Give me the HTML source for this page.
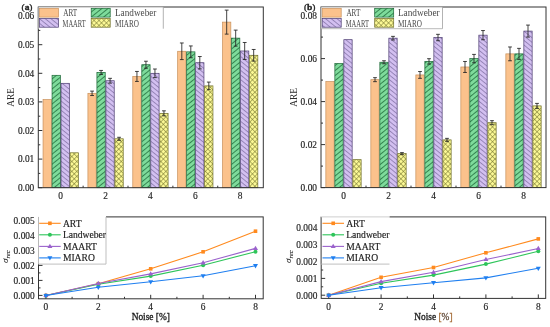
<!DOCTYPE html><html><head><meta charset="utf-8"><style>html,body{margin:0;padding:0;background:#fff;width:550px;height:327px;overflow:hidden}svg{display:block;filter:blur(0.3px)}.t{fill:#222;stroke:#222;stroke-width:0.15px}.t2{fill:#222;stroke:#222;stroke-width:0.12px}.t3{fill:#222;stroke:#222;stroke-width:0.32px}</style></head><body>
<svg width="550" height="327" viewBox="0 0 550 327" font-family='"Liberation Serif", serif' fill="#222">
<defs>
<pattern id="hLW" patternUnits="userSpaceOnUse" width="10" height="3.9" patternTransform="rotate(-39)"><line x1="0" y1="0.5" x2="10" y2="0.5" stroke="#1c6636" stroke-width="0.75"/></pattern>
<pattern id="hMA" patternUnits="userSpaceOnUse" width="10" height="3.6" patternTransform="rotate(39)"><line x1="0" y1="0.5" x2="10" y2="0.5" stroke="#54457a" stroke-width="0.5"/></pattern>
<pattern id="hMI" patternUnits="userSpaceOnUse" width="3.5" height="3.5" patternTransform="rotate(45)"><path d="M0 0.35H3.5M0.35 0V3.5" stroke="#6c6c28" stroke-width="0.55"/></pattern>
</defs>
<rect width="550" height="327" fill="#fff"/>
<rect x="43.05" y="99.61" width="8.3" height="88.09" fill="#fbc28c" stroke="#c8905a" stroke-width="0.7"/>
<rect x="52.05" y="75.30" width="8.3" height="112.40" fill="#7edb9b" stroke="#1c6636" stroke-width="0.7"/>
<rect x="52.05" y="75.30" width="8.3" height="112.40" fill="url(#hLW)"/>
<rect x="61.05" y="83.31" width="8.3" height="104.39" fill="#d3c0f1" stroke="#4a3a70" stroke-width="0.7"/>
<rect x="61.05" y="83.31" width="8.3" height="104.39" fill="url(#hMA)"/>
<rect x="70.05" y="152.81" width="8.3" height="34.89" fill="#fbf895" stroke="#6e6e2a" stroke-width="0.7"/>
<rect x="70.05" y="152.81" width="8.3" height="34.89" fill="url(#hMI)"/>
<rect x="87.92" y="93.32" width="8.3" height="94.38" fill="#fbc28c" stroke="#c8905a" stroke-width="0.7"/>
<path d="M90.17 91.12H93.97M92.07 91.12V95.52M90.17 95.52H93.97" stroke="#222" stroke-width="0.85" fill="none"/>
<rect x="96.92" y="72.44" width="8.3" height="115.26" fill="#7edb9b" stroke="#1c6636" stroke-width="0.7"/>
<rect x="96.92" y="72.44" width="8.3" height="115.26" fill="url(#hLW)"/>
<path d="M99.17 70.44H102.97M101.07 70.44V74.44M99.17 74.44H102.97" stroke="#222" stroke-width="0.85" fill="none"/>
<rect x="105.92" y="80.74" width="8.3" height="106.96" fill="#d3c0f1" stroke="#4a3a70" stroke-width="0.7"/>
<rect x="105.92" y="80.74" width="8.3" height="106.96" fill="url(#hMA)"/>
<path d="M108.17 78.34H111.97M110.07 78.34V83.14M108.17 83.14H111.97" stroke="#222" stroke-width="0.85" fill="none"/>
<rect x="114.92" y="138.79" width="8.3" height="48.91" fill="#fbf895" stroke="#6e6e2a" stroke-width="0.7"/>
<rect x="114.92" y="138.79" width="8.3" height="48.91" fill="url(#hMI)"/>
<path d="M117.17 137.29H120.97M119.07 137.29V140.29M117.17 140.29H120.97" stroke="#222" stroke-width="0.85" fill="none"/>
<rect x="132.79" y="76.45" width="8.3" height="111.25" fill="#fbc28c" stroke="#c8905a" stroke-width="0.7"/>
<path d="M135.04 71.45H138.84M136.94 71.45V81.45M135.04 81.45H138.84" stroke="#222" stroke-width="0.85" fill="none"/>
<rect x="141.79" y="64.72" width="8.3" height="122.98" fill="#7edb9b" stroke="#1c6636" stroke-width="0.7"/>
<rect x="141.79" y="64.72" width="8.3" height="122.98" fill="url(#hLW)"/>
<path d="M144.04 61.22H147.84M145.94 61.22V68.22M144.04 68.22H147.84" stroke="#222" stroke-width="0.85" fill="none"/>
<rect x="150.79" y="73.30" width="8.3" height="114.40" fill="#d3c0f1" stroke="#4a3a70" stroke-width="0.7"/>
<rect x="150.79" y="73.30" width="8.3" height="114.40" fill="url(#hMA)"/>
<path d="M153.04 69.00H156.84M154.94 69.00V77.60M153.04 77.60H156.84" stroke="#222" stroke-width="0.85" fill="none"/>
<rect x="159.79" y="113.34" width="8.3" height="74.36" fill="#fbf895" stroke="#6e6e2a" stroke-width="0.7"/>
<rect x="159.79" y="113.34" width="8.3" height="74.36" fill="url(#hMI)"/>
<path d="M162.04 110.84H165.84M163.94 110.84V115.84M162.04 115.84H165.84" stroke="#222" stroke-width="0.85" fill="none"/>
<rect x="177.66" y="51.28" width="8.3" height="136.42" fill="#fbc28c" stroke="#c8905a" stroke-width="0.7"/>
<path d="M179.91 42.98H183.71M181.81 42.98V59.58M179.91 59.58H183.71" stroke="#222" stroke-width="0.85" fill="none"/>
<rect x="186.66" y="51.85" width="8.3" height="135.85" fill="#7edb9b" stroke="#1c6636" stroke-width="0.7"/>
<rect x="186.66" y="51.85" width="8.3" height="135.85" fill="url(#hLW)"/>
<path d="M188.91 45.95H192.71M190.81 45.95V57.75M188.91 57.75H192.71" stroke="#222" stroke-width="0.85" fill="none"/>
<rect x="195.66" y="62.72" width="8.3" height="124.98" fill="#d3c0f1" stroke="#4a3a70" stroke-width="0.7"/>
<rect x="195.66" y="62.72" width="8.3" height="124.98" fill="url(#hMA)"/>
<path d="M197.91 56.52H201.71M199.81 56.52V68.92M197.91 68.92H201.71" stroke="#222" stroke-width="0.85" fill="none"/>
<rect x="204.66" y="85.88" width="8.3" height="101.82" fill="#fbf895" stroke="#6e6e2a" stroke-width="0.7"/>
<rect x="204.66" y="85.88" width="8.3" height="101.82" fill="url(#hMI)"/>
<path d="M206.91 82.08H210.71M208.81 82.08V89.68M206.91 89.68H210.71" stroke="#222" stroke-width="0.85" fill="none"/>
<rect x="222.53" y="22.11" width="8.3" height="165.59" fill="#fbc28c" stroke="#c8905a" stroke-width="0.7"/>
<path d="M224.78 10.11H228.58M226.68 10.11V34.11M224.78 34.11H228.58" stroke="#222" stroke-width="0.85" fill="none"/>
<rect x="231.53" y="38.12" width="8.3" height="149.58" fill="#7edb9b" stroke="#1c6636" stroke-width="0.7"/>
<rect x="231.53" y="38.12" width="8.3" height="149.58" fill="url(#hLW)"/>
<path d="M233.78 30.12H237.58M235.68 30.12V46.12M233.78 46.12H237.58" stroke="#222" stroke-width="0.85" fill="none"/>
<rect x="240.53" y="50.99" width="8.3" height="136.71" fill="#d3c0f1" stroke="#4a3a70" stroke-width="0.7"/>
<rect x="240.53" y="50.99" width="8.3" height="136.71" fill="url(#hMA)"/>
<path d="M242.78 42.49H246.58M244.68 42.49V59.49M242.78 59.49H246.58" stroke="#222" stroke-width="0.85" fill="none"/>
<rect x="249.53" y="55.28" width="8.3" height="132.42" fill="#fbf895" stroke="#6e6e2a" stroke-width="0.7"/>
<rect x="249.53" y="55.28" width="8.3" height="132.42" fill="url(#hMI)"/>
<path d="M251.78 49.48H255.58M253.68 49.48V61.08M251.78 61.08H255.58" stroke="#222" stroke-width="0.85" fill="none"/>
<rect x="38.3" y="7.0" width="225.0" height="180.7" fill="none" stroke="#333" stroke-width="1"/>
<line x1="38.3" y1="187.70" x2="42.3" y2="187.70" stroke="#333" stroke-width="1"/>
<text x="34.30" y="191.00" font-size="9.4" text-anchor="end" class="t">0.00</text>
<line x1="38.3" y1="173.40" x2="40.3" y2="173.40" stroke="#333" stroke-width="1"/>
<line x1="38.3" y1="159.10" x2="42.3" y2="159.10" stroke="#333" stroke-width="1"/>
<text x="34.30" y="162.40" font-size="9.4" text-anchor="end" class="t">0.01</text>
<line x1="38.3" y1="144.80" x2="40.3" y2="144.80" stroke="#333" stroke-width="1"/>
<line x1="38.3" y1="130.50" x2="42.3" y2="130.50" stroke="#333" stroke-width="1"/>
<text x="34.30" y="133.80" font-size="9.4" text-anchor="end" class="t">0.02</text>
<line x1="38.3" y1="116.20" x2="40.3" y2="116.20" stroke="#333" stroke-width="1"/>
<line x1="38.3" y1="101.90" x2="42.3" y2="101.90" stroke="#333" stroke-width="1"/>
<text x="34.30" y="105.20" font-size="9.4" text-anchor="end" class="t">0.03</text>
<line x1="38.3" y1="87.60" x2="40.3" y2="87.60" stroke="#333" stroke-width="1"/>
<line x1="38.3" y1="73.30" x2="42.3" y2="73.30" stroke="#333" stroke-width="1"/>
<text x="34.30" y="76.60" font-size="9.4" text-anchor="end" class="t">0.04</text>
<line x1="38.3" y1="59.00" x2="40.3" y2="59.00" stroke="#333" stroke-width="1"/>
<line x1="38.3" y1="44.70" x2="42.3" y2="44.70" stroke="#333" stroke-width="1"/>
<text x="34.30" y="48.00" font-size="9.4" text-anchor="end" class="t">0.05</text>
<line x1="38.3" y1="30.40" x2="40.3" y2="30.40" stroke="#333" stroke-width="1"/>
<line x1="38.3" y1="16.10" x2="42.3" y2="16.10" stroke="#333" stroke-width="1"/>
<text x="34.30" y="19.40" font-size="9.4" text-anchor="end" class="t">0.06</text>
<line x1="83.13499999999999" y1="187.7" x2="83.13499999999999" y2="185.7" stroke="#333" stroke-width="1"/>
<line x1="128.005" y1="187.7" x2="128.005" y2="185.7" stroke="#333" stroke-width="1"/>
<line x1="172.875" y1="187.7" x2="172.875" y2="185.7" stroke="#333" stroke-width="1"/>
<line x1="217.745" y1="187.7" x2="217.745" y2="185.7" stroke="#333" stroke-width="1"/>
<text x="60.70" y="198.90" font-size="9.4" text-anchor="middle" class="t">0</text>
<text x="105.57" y="198.90" font-size="9.4" text-anchor="middle" class="t">2</text>
<text x="150.44" y="198.90" font-size="9.4" text-anchor="middle" class="t">4</text>
<text x="195.31" y="198.90" font-size="9.4" text-anchor="middle" class="t">6</text>
<text x="240.18" y="198.90" font-size="9.4" text-anchor="middle" class="t">8</text>
<text transform="translate(14.40,97.4) rotate(-90)" text-anchor="middle" font-size="9.4" fill="#2a2a2a">ARE</text>
<text transform="translate(27.00,9.70) scale(1.08,1)" font-size="8.8" text-anchor="middle" class="t3">(<tspan font-weight="bold">a</tspan>)</text>
<rect x="38.3" y="7.0" width="125" height="21.7" fill="#fff"/>
<path d="M38.3 7.0H163.3V28.7" stroke="#a0a0a0" stroke-width="0.8" fill="none"/>
<path d="M38.3 7.0V28.7" stroke="#909090" stroke-width="0.9" fill="none"/>
<rect x="39.50" y="8.3" width="19" height="8.8" fill="#fbc28c" stroke="#c8905a" stroke-width="0.7"/>
<rect x="39.50" y="18.4" width="19" height="8.8" fill="#d3c0f1" stroke="#4a3a70" stroke-width="0.7"/>
<rect x="39.50" y="18.4" width="19" height="8.8" fill="url(#hMA)"/>
<rect x="91.20" y="8.3" width="19" height="8.8" fill="#7edb9b" stroke="#1c6636" stroke-width="0.7"/>
<rect x="91.20" y="8.3" width="19" height="8.8" fill="url(#hLW)"/>
<rect x="91.20" y="18.4" width="19" height="8.8" fill="#fbf895" stroke="#6e6e2a" stroke-width="0.7"/>
<rect x="91.20" y="18.4" width="19" height="8.8" fill="url(#hMI)"/>
<text x="63.2" y="16.0" font-size="9.6" fill="#4a4a4a" textLength="14" lengthAdjust="spacingAndGlyphs">ART</text>
<text x="62.6" y="26.6" font-size="9.6" fill="#4a4a4a" textLength="23.2" lengthAdjust="spacingAndGlyphs">MAART</text>
<text x="115" y="16.0" font-size="9.6" fill="#4a4a4a" textLength="41.4" lengthAdjust="spacingAndGlyphs">Landweber</text>
<text x="115" y="26.6" font-size="9.6" fill="#4a4a4a" textLength="24" lengthAdjust="spacingAndGlyphs">MIARO</text>
<rect x="325.85" y="81.61" width="8.3" height="105.99" fill="#fbc28c" stroke="#c8905a" stroke-width="0.7"/>
<rect x="334.85" y="63.54" width="8.3" height="124.06" fill="#7edb9b" stroke="#1c6636" stroke-width="0.7"/>
<rect x="334.85" y="63.54" width="8.3" height="124.06" fill="url(#hLW)"/>
<rect x="343.85" y="39.68" width="8.3" height="147.92" fill="#d3c0f1" stroke="#4a3a70" stroke-width="0.7"/>
<rect x="343.85" y="39.68" width="8.3" height="147.92" fill="url(#hMA)"/>
<rect x="352.85" y="159.65" width="8.3" height="27.95" fill="#fbf895" stroke="#6e6e2a" stroke-width="0.7"/>
<rect x="352.85" y="159.65" width="8.3" height="27.95" fill="url(#hMI)"/>
<rect x="370.85" y="79.67" width="8.3" height="107.93" fill="#fbc28c" stroke="#c8905a" stroke-width="0.7"/>
<path d="M373.10 77.67H376.90M375.00 77.67V81.67M373.10 81.67H376.90" stroke="#222" stroke-width="0.85" fill="none"/>
<rect x="379.85" y="62.25" width="8.3" height="125.34" fill="#7edb9b" stroke="#1c6636" stroke-width="0.7"/>
<rect x="379.85" y="62.25" width="8.3" height="125.34" fill="url(#hLW)"/>
<path d="M382.10 60.75H385.90M384.00 60.75V63.75M382.10 63.75H385.90" stroke="#222" stroke-width="0.85" fill="none"/>
<rect x="388.85" y="38.17" width="8.3" height="149.43" fill="#d3c0f1" stroke="#4a3a70" stroke-width="0.7"/>
<rect x="388.85" y="38.17" width="8.3" height="149.43" fill="url(#hMA)"/>
<path d="M391.10 36.37H394.90M393.00 36.37V39.97M391.10 39.97H394.90" stroke="#222" stroke-width="0.85" fill="none"/>
<rect x="397.85" y="153.63" width="8.3" height="33.97" fill="#fbf895" stroke="#6e6e2a" stroke-width="0.7"/>
<rect x="397.85" y="153.63" width="8.3" height="33.97" fill="url(#hMI)"/>
<path d="M400.10 152.63H403.90M402.00 152.63V154.63M400.10 154.63H403.90" stroke="#222" stroke-width="0.85" fill="none"/>
<rect x="415.85" y="74.94" width="8.3" height="112.66" fill="#fbc28c" stroke="#c8905a" stroke-width="0.7"/>
<path d="M418.10 71.54H421.90M420.00 71.54V78.34M418.10 78.34H421.90" stroke="#222" stroke-width="0.85" fill="none"/>
<rect x="424.85" y="61.39" width="8.3" height="126.20" fill="#7edb9b" stroke="#1c6636" stroke-width="0.7"/>
<rect x="424.85" y="61.39" width="8.3" height="126.20" fill="url(#hLW)"/>
<path d="M427.10 58.69H430.90M429.00 58.69V64.09M427.10 64.09H430.90" stroke="#222" stroke-width="0.85" fill="none"/>
<rect x="433.85" y="37.53" width="8.3" height="150.07" fill="#d3c0f1" stroke="#4a3a70" stroke-width="0.7"/>
<rect x="433.85" y="37.53" width="8.3" height="150.07" fill="url(#hMA)"/>
<path d="M436.10 34.33H439.90M438.00 34.33V40.73M436.10 40.73H439.90" stroke="#222" stroke-width="0.85" fill="none"/>
<rect x="442.85" y="139.87" width="8.3" height="47.73" fill="#fbf895" stroke="#6e6e2a" stroke-width="0.7"/>
<rect x="442.85" y="139.87" width="8.3" height="47.73" fill="url(#hMI)"/>
<path d="M445.10 138.37H448.90M447.00 138.37V141.37M445.10 141.37H448.90" stroke="#222" stroke-width="0.85" fill="none"/>
<rect x="460.85" y="66.98" width="8.3" height="120.61" fill="#fbc28c" stroke="#c8905a" stroke-width="0.7"/>
<path d="M463.10 61.48H466.90M465.00 61.48V72.48M463.10 72.48H466.90" stroke="#222" stroke-width="0.85" fill="none"/>
<rect x="469.85" y="58.60" width="8.3" height="129.00" fill="#7edb9b" stroke="#1c6636" stroke-width="0.7"/>
<rect x="469.85" y="58.60" width="8.3" height="129.00" fill="url(#hLW)"/>
<path d="M472.10 54.40H475.90M474.00 54.40V62.80M472.10 62.80H475.90" stroke="#222" stroke-width="0.85" fill="none"/>
<rect x="478.85" y="35.16" width="8.3" height="152.44" fill="#d3c0f1" stroke="#4a3a70" stroke-width="0.7"/>
<rect x="478.85" y="35.16" width="8.3" height="152.44" fill="url(#hMA)"/>
<path d="M481.10 30.56H484.90M483.00 30.56V39.76M481.10 39.76H484.90" stroke="#222" stroke-width="0.85" fill="none"/>
<rect x="487.85" y="122.67" width="8.3" height="64.93" fill="#fbf895" stroke="#6e6e2a" stroke-width="0.7"/>
<rect x="487.85" y="122.67" width="8.3" height="64.93" fill="url(#hMI)"/>
<path d="M490.10 120.67H493.90M492.00 120.67V124.67M490.10 124.67H493.90" stroke="#222" stroke-width="0.85" fill="none"/>
<rect x="505.85" y="53.87" width="8.3" height="133.73" fill="#fbc28c" stroke="#c8905a" stroke-width="0.7"/>
<path d="M508.10 46.97H511.90M510.00 46.97V60.77M508.10 60.77H511.90" stroke="#222" stroke-width="0.85" fill="none"/>
<rect x="514.85" y="53.87" width="8.3" height="133.73" fill="#7edb9b" stroke="#1c6636" stroke-width="0.7"/>
<rect x="514.85" y="53.87" width="8.3" height="133.73" fill="url(#hLW)"/>
<path d="M517.10 48.37H520.90M519.00 48.37V59.37M517.10 59.37H520.90" stroke="#222" stroke-width="0.85" fill="none"/>
<rect x="523.85" y="31.08" width="8.3" height="156.52" fill="#d3c0f1" stroke="#4a3a70" stroke-width="0.7"/>
<rect x="523.85" y="31.08" width="8.3" height="156.52" fill="url(#hMA)"/>
<path d="M526.10 25.08H529.90M528.00 25.08V37.08M526.10 37.08H529.90" stroke="#222" stroke-width="0.85" fill="none"/>
<rect x="532.85" y="105.90" width="8.3" height="81.70" fill="#fbf895" stroke="#6e6e2a" stroke-width="0.7"/>
<rect x="532.85" y="105.90" width="8.3" height="81.70" fill="url(#hMI)"/>
<path d="M535.10 103.40H538.90M537.00 103.40V108.40M535.10 108.40H538.90" stroke="#222" stroke-width="0.85" fill="none"/>
<rect x="321.0" y="7.0" width="225.0" height="180.6" fill="none" stroke="#333" stroke-width="1"/>
<line x1="321.0" y1="187.60" x2="325.0" y2="187.60" stroke="#333" stroke-width="1"/>
<text x="317.00" y="190.90" font-size="9.4" text-anchor="end" class="t">0.00</text>
<line x1="321.0" y1="166.10" x2="323.0" y2="166.10" stroke="#333" stroke-width="1"/>
<line x1="321.0" y1="144.60" x2="325.0" y2="144.60" stroke="#333" stroke-width="1"/>
<text x="317.00" y="147.90" font-size="9.4" text-anchor="end" class="t">0.02</text>
<line x1="321.0" y1="123.10" x2="323.0" y2="123.10" stroke="#333" stroke-width="1"/>
<line x1="321.0" y1="101.60" x2="325.0" y2="101.60" stroke="#333" stroke-width="1"/>
<text x="317.00" y="104.90" font-size="9.4" text-anchor="end" class="t">0.04</text>
<line x1="321.0" y1="80.10" x2="323.0" y2="80.10" stroke="#333" stroke-width="1"/>
<line x1="321.0" y1="58.60" x2="325.0" y2="58.60" stroke="#333" stroke-width="1"/>
<text x="317.00" y="61.90" font-size="9.4" text-anchor="end" class="t">0.06</text>
<line x1="321.0" y1="37.10" x2="323.0" y2="37.10" stroke="#333" stroke-width="1"/>
<line x1="321.0" y1="15.60" x2="325.0" y2="15.60" stroke="#333" stroke-width="1"/>
<text x="317.00" y="18.90" font-size="9.4" text-anchor="end" class="t">0.08</text>
<line x1="366.0" y1="187.6" x2="366.0" y2="185.6" stroke="#333" stroke-width="1"/>
<line x1="411.0" y1="187.6" x2="411.0" y2="185.6" stroke="#333" stroke-width="1"/>
<line x1="456.0" y1="187.6" x2="456.0" y2="185.6" stroke="#333" stroke-width="1"/>
<line x1="501.0" y1="187.6" x2="501.0" y2="185.6" stroke="#333" stroke-width="1"/>
<text x="343.50" y="198.80" font-size="9.4" text-anchor="middle" class="t">0</text>
<text x="388.50" y="198.80" font-size="9.4" text-anchor="middle" class="t">2</text>
<text x="433.50" y="198.80" font-size="9.4" text-anchor="middle" class="t">4</text>
<text x="478.50" y="198.80" font-size="9.4" text-anchor="middle" class="t">6</text>
<text x="523.50" y="198.80" font-size="9.4" text-anchor="middle" class="t">8</text>
<text transform="translate(297.10,97.4) rotate(-90)" text-anchor="middle" font-size="9.4" fill="#2a2a2a">ARE</text>
<text transform="translate(309.70,9.70) scale(1.08,1)" font-size="8.8" text-anchor="middle" class="t3">(<tspan font-weight="bold">b</tspan>)</text>
<rect x="321.0" y="7.0" width="121.5" height="21.7" fill="#fff"/>
<path d="M321.0 7.0H442.5V28.7" stroke="#a0a0a0" stroke-width="0.8" fill="none"/>
<path d="M321.0 7.0V28.7" stroke="#909090" stroke-width="0.9" fill="none"/>
<path d="M321.0 28.7H442.5" stroke="#a8a8a8" stroke-width="0.8" fill="none"/>
<rect x="322.20" y="8.3" width="19" height="8.8" fill="#fbc28c" stroke="#c8905a" stroke-width="0.7"/>
<rect x="322.20" y="18.4" width="19" height="8.8" fill="#d3c0f1" stroke="#4a3a70" stroke-width="0.7"/>
<rect x="322.20" y="18.4" width="19" height="8.8" fill="url(#hMA)"/>
<rect x="374.70" y="8.3" width="19" height="8.8" fill="#7edb9b" stroke="#1c6636" stroke-width="0.7"/>
<rect x="374.70" y="8.3" width="19" height="8.8" fill="url(#hLW)"/>
<rect x="374.70" y="18.4" width="19" height="8.8" fill="#fbf895" stroke="#6e6e2a" stroke-width="0.7"/>
<rect x="374.70" y="18.4" width="19" height="8.8" fill="url(#hMI)"/>
<text x="346.4" y="16.0" font-size="9.6" fill="#4a4a4a" textLength="14" lengthAdjust="spacingAndGlyphs">ART</text>
<text x="345.8" y="26.6" font-size="9.6" fill="#4a4a4a" textLength="23.2" lengthAdjust="spacingAndGlyphs">MAART</text>
<text x="397.9" y="16.0" font-size="9.6" fill="#4a4a4a" textLength="41.8" lengthAdjust="spacingAndGlyphs">Landweber</text>
<text x="397.9" y="26.6" font-size="9.6" fill="#4a4a4a" textLength="24" lengthAdjust="spacingAndGlyphs">MIARO</text>
<rect x="38.5" y="216.9" width="224.7" height="81.9" fill="none" stroke="#333" stroke-width="1"/>
<line x1="38.5" y1="295.40" x2="42.5" y2="295.40" stroke="#333" stroke-width="1"/>
<text x="34.70" y="298.80" font-size="9.4" text-anchor="end" class="t">0.000</text>
<line x1="38.5" y1="280.40" x2="42.5" y2="280.40" stroke="#333" stroke-width="1"/>
<text x="34.70" y="283.80" font-size="9.4" text-anchor="end" class="t">0.001</text>
<line x1="38.5" y1="265.40" x2="42.5" y2="265.40" stroke="#333" stroke-width="1"/>
<text x="34.70" y="268.80" font-size="9.4" text-anchor="end" class="t">0.002</text>
<line x1="38.5" y1="250.40" x2="42.5" y2="250.40" stroke="#333" stroke-width="1"/>
<text x="34.70" y="253.80" font-size="9.4" text-anchor="end" class="t">0.003</text>
<line x1="38.5" y1="235.40" x2="42.5" y2="235.40" stroke="#333" stroke-width="1"/>
<text x="34.70" y="238.80" font-size="9.4" text-anchor="end" class="t">0.004</text>
<line x1="38.5" y1="220.40" x2="42.5" y2="220.40" stroke="#333" stroke-width="1"/>
<text x="34.70" y="223.80" font-size="9.4" text-anchor="end" class="t">0.005</text>
<line x1="38.5" y1="287.90" x2="40.5" y2="287.90" stroke="#333" stroke-width="1"/>
<line x1="38.5" y1="272.90" x2="40.5" y2="272.90" stroke="#333" stroke-width="1"/>
<line x1="38.5" y1="257.90" x2="40.5" y2="257.90" stroke="#333" stroke-width="1"/>
<line x1="38.5" y1="242.90" x2="40.5" y2="242.90" stroke="#333" stroke-width="1"/>
<line x1="38.5" y1="227.90" x2="40.5" y2="227.90" stroke="#333" stroke-width="1"/>
<line x1="45.90" y1="298.8" x2="45.90" y2="294.8" stroke="#333" stroke-width="1"/>
<text x="45.90" y="310.10" font-size="9.4" text-anchor="middle" class="t">0</text>
<line x1="72.10" y1="298.8" x2="72.10" y2="296.8" stroke="#333" stroke-width="1"/>
<line x1="98.30" y1="298.8" x2="98.30" y2="294.8" stroke="#333" stroke-width="1"/>
<text x="98.30" y="310.10" font-size="9.4" text-anchor="middle" class="t">2</text>
<line x1="124.50" y1="298.8" x2="124.50" y2="296.8" stroke="#333" stroke-width="1"/>
<line x1="150.70" y1="298.8" x2="150.70" y2="294.8" stroke="#333" stroke-width="1"/>
<text x="150.70" y="310.10" font-size="9.4" text-anchor="middle" class="t">4</text>
<line x1="176.90" y1="298.8" x2="176.90" y2="296.8" stroke="#333" stroke-width="1"/>
<line x1="203.10" y1="298.8" x2="203.10" y2="294.8" stroke="#333" stroke-width="1"/>
<text x="203.10" y="310.10" font-size="9.4" text-anchor="middle" class="t">6</text>
<line x1="229.30" y1="298.8" x2="229.30" y2="296.8" stroke="#333" stroke-width="1"/>
<line x1="255.50" y1="298.8" x2="255.50" y2="294.8" stroke="#333" stroke-width="1"/>
<text x="255.50" y="310.10" font-size="9.4" text-anchor="middle" class="t">8</text>
<polyline points="45.90,295.50 98.30,283.70 150.70,268.80 203.10,251.80 255.50,231.20" fill="none" stroke="#ff8a1e" stroke-width="1.1"/>
<rect x="44.10" y="293.70" width="3.6" height="3.6" fill="#ff8a1e"/>
<rect x="96.50" y="281.90" width="3.6" height="3.6" fill="#ff8a1e"/>
<rect x="148.90" y="267.00" width="3.6" height="3.6" fill="#ff8a1e"/>
<rect x="201.30" y="250.00" width="3.6" height="3.6" fill="#ff8a1e"/>
<rect x="253.70" y="229.40" width="3.6" height="3.6" fill="#ff8a1e"/>
<polyline points="45.90,295.50 98.30,284.20 150.70,276.10 203.10,265.20 255.50,251.70" fill="none" stroke="#2ec55a" stroke-width="1.1"/>
<circle cx="45.90" cy="295.50" r="2" fill="#2ec55a"/>
<circle cx="98.30" cy="284.20" r="2" fill="#2ec55a"/>
<circle cx="150.70" cy="276.10" r="2" fill="#2ec55a"/>
<circle cx="203.10" cy="265.20" r="2" fill="#2ec55a"/>
<circle cx="255.50" cy="251.70" r="2" fill="#2ec55a"/>
<polyline points="45.90,295.50 98.30,283.50 150.70,273.90 203.10,262.80 255.50,248.40" fill="none" stroke="#9a62cc" stroke-width="1.1"/>
<path d="M45.90 292.80L48.40 297.10H43.40Z" fill="#9a62cc"/>
<path d="M98.30 280.80L100.80 285.10H95.80Z" fill="#9a62cc"/>
<path d="M150.70 271.20L153.20 275.50H148.20Z" fill="#9a62cc"/>
<path d="M203.10 260.10L205.60 264.40H200.60Z" fill="#9a62cc"/>
<path d="M255.50 245.70L258.00 250.00H253.00Z" fill="#9a62cc"/>
<polyline points="45.90,295.50 98.30,287.30 150.70,281.80 203.10,275.80 255.50,265.70" fill="none" stroke="#1f7ff0" stroke-width="1.1"/>
<path d="M45.90 298.20L48.40 293.90H43.40Z" fill="#1f7ff0"/>
<path d="M98.30 290.00L100.80 285.70H95.80Z" fill="#1f7ff0"/>
<path d="M150.70 284.50L153.20 280.20H148.20Z" fill="#1f7ff0"/>
<path d="M203.10 278.50L205.60 274.20H200.60Z" fill="#1f7ff0"/>
<path d="M255.50 268.40L258.00 264.10H253.00Z" fill="#1f7ff0"/>
<rect x="37.9" y="215.70000000000002" width="68.1" height="48.4" fill="#fff"/>
<path d="M38.50 216.90V264.10" stroke="#b8b8b8" stroke-width="1" fill="none"/>
<path d="M38.50 264.10H106.00" stroke="#b8b8b8" stroke-width="0.9" fill="none"/>
<path d="M106.00 216.90V264.10" stroke="#b8b8b8" stroke-width="0.9" fill="none"/>
<line x1="39.20" y1="223.30" x2="60.70" y2="223.30" stroke="#ff8a1e" stroke-width="1.1"/>
<rect x="48.10" y="221.50" width="3.6" height="3.6" fill="#ff8a1e"/>
<text x="62.90" y="226.60" font-size="9.6" class="t">ART</text>
<line x1="39.20" y1="234.80" x2="60.70" y2="234.80" stroke="#2ec55a" stroke-width="1.1"/>
<circle cx="49.90" cy="234.80" r="2" fill="#2ec55a"/>
<text x="62.90" y="238.10" font-size="9.6" class="t">Landweber</text>
<line x1="39.20" y1="246.40" x2="60.70" y2="246.40" stroke="#9a62cc" stroke-width="1.1"/>
<path d="M49.90 243.70L52.40 248.00H47.40Z" fill="#9a62cc"/>
<text x="62.90" y="249.70" font-size="9.6" class="t">MAART</text>
<line x1="39.20" y1="257.90" x2="60.70" y2="257.90" stroke="#1f7ff0" stroke-width="1.1"/>
<path d="M49.90 260.60L52.40 256.30H47.40Z" fill="#1f7ff0"/>
<text x="62.90" y="261.20" font-size="9.6" class="t">MIARO</text>
<rect x="321.2" y="216.9" width="224.50000000000006" height="81.49999999999997" fill="none" stroke="#333" stroke-width="1"/>
<line x1="321.2" y1="295.20" x2="325.2" y2="295.20" stroke="#333" stroke-width="1"/>
<text x="317.40" y="298.60" font-size="9.4" text-anchor="end" class="t">0.000</text>
<line x1="321.2" y1="278.40" x2="325.2" y2="278.40" stroke="#333" stroke-width="1"/>
<text x="317.40" y="281.80" font-size="9.4" text-anchor="end" class="t">0.001</text>
<line x1="321.2" y1="261.60" x2="325.2" y2="261.60" stroke="#333" stroke-width="1"/>
<text x="317.40" y="265.00" font-size="9.4" text-anchor="end" class="t">0.002</text>
<line x1="321.2" y1="244.80" x2="325.2" y2="244.80" stroke="#333" stroke-width="1"/>
<text x="317.40" y="248.20" font-size="9.4" text-anchor="end" class="t">0.003</text>
<line x1="321.2" y1="228.00" x2="325.2" y2="228.00" stroke="#333" stroke-width="1"/>
<text x="317.40" y="231.40" font-size="9.4" text-anchor="end" class="t">0.004</text>
<line x1="321.2" y1="286.80" x2="323.2" y2="286.80" stroke="#333" stroke-width="1"/>
<line x1="321.2" y1="270.00" x2="323.2" y2="270.00" stroke="#333" stroke-width="1"/>
<line x1="321.2" y1="253.20" x2="323.2" y2="253.20" stroke="#333" stroke-width="1"/>
<line x1="321.2" y1="236.40" x2="323.2" y2="236.40" stroke="#333" stroke-width="1"/>
<line x1="321.2" y1="219.60" x2="323.2" y2="219.60" stroke="#333" stroke-width="1"/>
<line x1="328.70" y1="298.4" x2="328.70" y2="294.4" stroke="#333" stroke-width="1"/>
<text x="328.70" y="309.70" font-size="9.4" text-anchor="middle" class="t">0</text>
<line x1="354.90" y1="298.4" x2="354.90" y2="296.4" stroke="#333" stroke-width="1"/>
<line x1="381.10" y1="298.4" x2="381.10" y2="294.4" stroke="#333" stroke-width="1"/>
<text x="381.10" y="309.70" font-size="9.4" text-anchor="middle" class="t">2</text>
<line x1="407.30" y1="298.4" x2="407.30" y2="296.4" stroke="#333" stroke-width="1"/>
<line x1="433.50" y1="298.4" x2="433.50" y2="294.4" stroke="#333" stroke-width="1"/>
<text x="433.50" y="309.70" font-size="9.4" text-anchor="middle" class="t">4</text>
<line x1="459.70" y1="298.4" x2="459.70" y2="296.4" stroke="#333" stroke-width="1"/>
<line x1="485.90" y1="298.4" x2="485.90" y2="294.4" stroke="#333" stroke-width="1"/>
<text x="485.90" y="309.70" font-size="9.4" text-anchor="middle" class="t">6</text>
<line x1="512.10" y1="298.4" x2="512.10" y2="296.4" stroke="#333" stroke-width="1"/>
<line x1="538.30" y1="298.4" x2="538.30" y2="294.4" stroke="#333" stroke-width="1"/>
<text x="538.30" y="309.70" font-size="9.4" text-anchor="middle" class="t">8</text>
<polyline points="328.70,295.30 381.10,277.30 433.50,267.50 485.90,252.80 538.30,238.90" fill="none" stroke="#ff8a1e" stroke-width="1.1"/>
<rect x="326.90" y="293.50" width="3.6" height="3.6" fill="#ff8a1e"/>
<rect x="379.30" y="275.50" width="3.6" height="3.6" fill="#ff8a1e"/>
<rect x="431.70" y="265.70" width="3.6" height="3.6" fill="#ff8a1e"/>
<rect x="484.10" y="251.00" width="3.6" height="3.6" fill="#ff8a1e"/>
<rect x="536.50" y="237.10" width="3.6" height="3.6" fill="#ff8a1e"/>
<polyline points="328.70,295.30 381.10,283.20 433.50,275.10 485.90,264.10 538.30,251.30" fill="none" stroke="#2ec55a" stroke-width="1.1"/>
<circle cx="328.70" cy="295.30" r="2" fill="#2ec55a"/>
<circle cx="381.10" cy="283.20" r="2" fill="#2ec55a"/>
<circle cx="433.50" cy="275.10" r="2" fill="#2ec55a"/>
<circle cx="485.90" cy="264.10" r="2" fill="#2ec55a"/>
<circle cx="538.30" cy="251.30" r="2" fill="#2ec55a"/>
<polyline points="328.70,295.30 381.10,281.60 433.50,272.30 485.90,259.50 538.30,248.50" fill="none" stroke="#9a62cc" stroke-width="1.1"/>
<path d="M328.70 292.60L331.20 296.90H326.20Z" fill="#9a62cc"/>
<path d="M381.10 278.90L383.60 283.20H378.60Z" fill="#9a62cc"/>
<path d="M433.50 269.60L436.00 273.90H431.00Z" fill="#9a62cc"/>
<path d="M485.90 256.80L488.40 261.10H483.40Z" fill="#9a62cc"/>
<path d="M538.30 245.80L540.80 250.10H535.80Z" fill="#9a62cc"/>
<polyline points="328.70,295.30 381.10,287.70 433.50,282.70 485.90,277.90 538.30,268.30" fill="none" stroke="#1f7ff0" stroke-width="1.1"/>
<path d="M328.70 298.00L331.20 293.70H326.20Z" fill="#1f7ff0"/>
<path d="M381.10 290.40L383.60 286.10H378.60Z" fill="#1f7ff0"/>
<path d="M433.50 285.40L436.00 281.10H431.00Z" fill="#1f7ff0"/>
<path d="M485.90 280.60L488.40 276.30H483.40Z" fill="#1f7ff0"/>
<path d="M538.30 271.00L540.80 266.70H535.80Z" fill="#1f7ff0"/>
<rect x="320.59999999999997" y="215.70000000000002" width="68.89999999999999" height="48.4" fill="#fff"/>
<path d="M321.20 216.90V264.10" stroke="#555" stroke-width="1" fill="none"/>
<path d="M321.20 264.10H389.50" stroke="#b8b8b8" stroke-width="0.9" fill="none"/>
<path d="M321.20 216.90H389.50" stroke="#c8c8c8" stroke-width="0.9" fill="none"/>
<line x1="322.50" y1="223.30" x2="344.00" y2="223.30" stroke="#ff8a1e" stroke-width="1.1"/>
<rect x="331.40" y="221.50" width="3.6" height="3.6" fill="#ff8a1e"/>
<text x="346.20" y="226.60" font-size="9.6" class="t">ART</text>
<line x1="322.50" y1="234.80" x2="344.00" y2="234.80" stroke="#2ec55a" stroke-width="1.1"/>
<circle cx="333.20" cy="234.80" r="2" fill="#2ec55a"/>
<text x="346.20" y="238.10" font-size="9.6" class="t">Landweber</text>
<line x1="322.50" y1="246.40" x2="344.00" y2="246.40" stroke="#9a62cc" stroke-width="1.1"/>
<path d="M333.20 243.70L335.70 248.00H330.70Z" fill="#9a62cc"/>
<text x="346.20" y="249.70" font-size="9.6" class="t">MAART</text>
<line x1="322.50" y1="257.90" x2="344.00" y2="257.90" stroke="#1f7ff0" stroke-width="1.1"/>
<path d="M333.20 260.60L335.70 256.30H330.70Z" fill="#1f7ff0"/>
<text x="346.20" y="261.20" font-size="9.6" class="t">MIARO</text>
<text x="150.8" y="319.9" text-anchor="middle" font-size="9.4" class="t3">Noise [%]</text>
<text x="433.4" y="319.9" text-anchor="middle" font-size="9.4" class="t3">Noise <tspan fill="#a8703c" stroke="#a8703c">[</tspan><tspan fill="#6a5444" stroke="#6a5444">%</tspan><tspan fill="#a8703c" stroke="#a8703c">]</tspan></text>
<text transform="translate(8.0,256.6) rotate(-90)" text-anchor="middle" font-size="9.2" font-style="italic" class="t2">σ<tspan font-size="6.8" dy="2.2">rec</tspan></text>
<text transform="translate(290.8,256.6) rotate(-90)" text-anchor="middle" font-size="9.2" font-style="italic" class="t2">σ<tspan font-size="6.8" dy="2.2">rec</tspan></text>
</svg></body></html>
